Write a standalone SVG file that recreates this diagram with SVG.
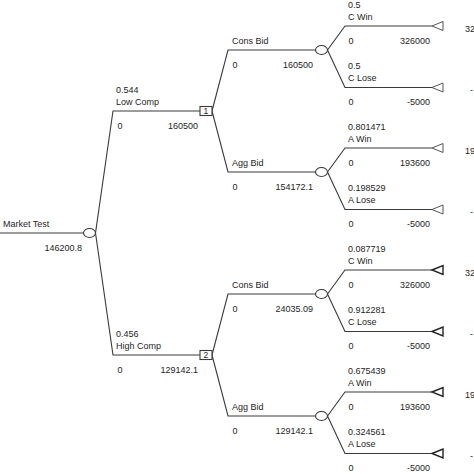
<svg xmlns="http://www.w3.org/2000/svg" width="474" height="474" viewBox="0 0 474 474">
<style>
text{font-family:"Liberation Sans",Arial,sans-serif;font-size:9px;fill:#1e1e1e}
.e{text-anchor:end}
.ln{fill:none;stroke:#3a3a3a;stroke-width:1.1}
.ch{fill:#fff;stroke:#3a3a3a;stroke-width:1.1}
.dc{fill:#fff;stroke:#3a3a3a;stroke-width:1.1}
.tr{fill:#fff;stroke:#555;stroke-width:1}
.tr2{fill:#fff;stroke:#222;stroke-width:1.4}
.bx{font-size:8.5px}
</style>
<rect width="474" height="474" fill="#fff"/>
<g id="connectors">
<path class="ln" d="M0,233H83.5"/>
<path class="ln" d="M95.5,233L113,111H200"/>
<path class="ln" d="M95.5,233L113,355H200"/>
<path class="ln" d="M212,111L228,50H315.5"/>
<path class="ln" d="M212,111L228,172H315.5"/>
<path class="ln" d="M212,355L228,294H315.5"/>
<path class="ln" d="M212,355L228,416H315.5"/>
<path class="ln" d="M327.5,50L345,26H432"/>
<path class="ln" d="M327.5,50L345,87.5H432"/>
<path class="ln" d="M327.5,172L345,148H432"/>
<path class="ln" d="M327.5,172L345,209.5H432"/>
<path class="ln" d="M327.5,294L345,270H432"/>
<path class="ln" d="M327.5,294L345,331.5H432"/>
<path class="ln" d="M327.5,416L345,392H432"/>
<path class="ln" d="M327.5,416L345,453.5H432"/>
<g id="branch-labels">
<text x="116" y="92.5">0.544</text><text x="116" y="105">Low Comp</text><text x="117.5" y="128.5">0</text><text class="e" x="198" y="128.5">160500</text>
<text x="116" y="336.5">0.456</text><text x="116" y="349">High Comp</text><text x="117.5" y="372.5">0</text><text class="e" x="198" y="372.5">129142.1</text>
<text x="232" y="44">Cons Bid</text><text x="232.5" y="67.5">0</text><text class="e" x="313" y="67.5">160500</text>
<text x="232" y="166">Agg Bid</text><text x="232.5" y="189.5">0</text><text class="e" x="313" y="189.5">154172.1</text>
<text x="232" y="288">Cons Bid</text><text x="232.5" y="311.5">0</text><text class="e" x="313" y="311.5">24035.09</text>
<text x="232" y="410">Agg Bid</text><text x="232.5" y="433.5">0</text><text class="e" x="313" y="433.5">129142.1</text>
<text x="348" y="7.5">0.5</text><text x="348" y="19.5">C Win</text><text x="348.5" y="43.5">0</text><text class="e" x="430" y="43.5">326000</text>
<text x="348" y="69">0.5</text><text x="348" y="81">C Lose</text><text x="348.5" y="105">0</text><text class="e" x="430" y="105">-5000</text>
<text x="348" y="129.5">0.801471</text><text x="348" y="141.5">A Win</text><text x="348.5" y="165.5">0</text><text class="e" x="430" y="165.5">193600</text>
<text x="348" y="191">0.198529</text><text x="348" y="203">A Lose</text><text x="348.5" y="227">0</text><text class="e" x="430" y="227">-5000</text>
<text x="348" y="251.5">0.087719</text><text x="348" y="263.5">C Win</text><text x="348.5" y="287.5">0</text><text class="e" x="430" y="287.5">326000</text>
<text x="348" y="313">0.912281</text><text x="348" y="325">C Lose</text><text x="348.5" y="349">0</text><text class="e" x="430" y="349">-5000</text>
<text x="348" y="373.5">0.675439</text><text x="348" y="385.5">A Win</text><text x="348.5" y="409.5">0</text><text class="e" x="430" y="409.5">193600</text>
<text x="348" y="435">0.324561</text><text x="348" y="447">A Lose</text><text x="348.5" y="471">0</text><text class="e" x="430" y="471">-5000</text>
</g>
</g>
<g id="root">
<text x="3" y="227">Market Test</text>
<ellipse class="ch" cx="89.5" cy="233" rx="6" ry="4.5"/>
<text class="e" x="82" y="251">146200.8</text>
</g>
<g id="decision-1"><rect class="dc" x="200" y="106.5" width="12" height="9"/><text class="bx" x="203.6" y="114.3">1</text></g>
<g id="decision-2"><rect class="dc" x="200" y="350.5" width="12" height="9"/><text class="bx" x="203.6" y="358.3">2</text></g>
<g id="chance-cons-low"><ellipse class="ch" cx="321.5" cy="50" rx="6" ry="4.5"/></g>
<g id="chance-agg-low"><ellipse class="ch" cx="321.5" cy="172" rx="6" ry="4.5"/></g>
<g id="chance-cons-high"><ellipse class="ch" cx="321.5" cy="294" rx="6" ry="4.5"/></g>
<g id="chance-agg-high"><ellipse class="ch" cx="321.5" cy="416" rx="6" ry="4.5"/></g>
<g id="end-1"><polygon class="tr" points="432,26 443,21.5 443,30.5"/><text x="465" y="31.5">32</text></g>
<g id="end-2"><polygon class="tr" points="432,87.5 443,83 443,92"/><text x="470" y="93">-</text></g>
<g id="end-3"><polygon class="tr" points="432,148 443,143.5 443,152.5"/><text x="465" y="153.5">19</text></g>
<g id="end-4"><polygon class="tr" points="432,209.5 443,205 443,214"/><text x="470" y="215">-</text></g>
<g id="end-5"><polygon class="tr2" points="432,270 443,265.5 443,274.5"/><text x="465" y="275.5">32</text></g>
<g id="end-6"><polygon class="tr2" points="432,331.5 443,327 443,336"/><text x="470" y="337">-</text></g>
<g id="end-7"><polygon class="tr2" points="432,392 443,387.5 443,396.5"/><text x="465" y="397.5">19</text></g>
<g id="end-8"><polygon class="tr2" points="432,453.5 443,449 443,458"/><text x="470" y="459">-</text></g>
</svg>
